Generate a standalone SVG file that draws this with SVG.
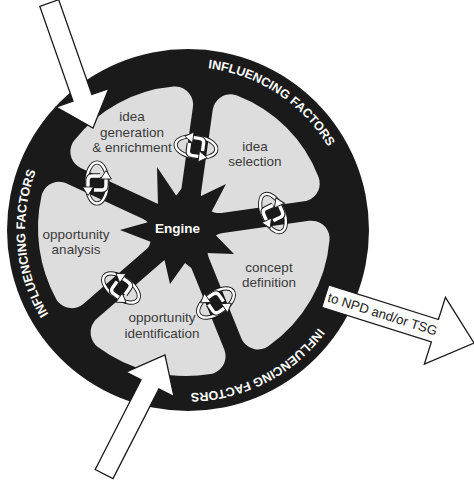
<svg xmlns="http://www.w3.org/2000/svg" xmlns:xlink="http://www.w3.org/1999/xlink" width="474" height="481" viewBox="0 0 474 481">
<style>
.lobe{fill:#dddddd;stroke:#dddddd;stroke-width:36;stroke-linejoin:round}
.lbl{font-family:"Liberation Sans",Arial,sans-serif;font-size:13.5px;fill:#3a3a3a;text-anchor:middle}
.ring{font-family:"Liberation Sans",Arial,sans-serif;font-size:12.5px;font-weight:bold;fill:#fff;text-anchor:middle}
.arrow{fill:#fff;stroke:#1a1a1a;stroke-width:1.3;stroke-linejoin:miter}
.sk{fill:none;stroke:#1a1a1a;stroke-width:5.6}
.sw{fill:none;stroke:#fff;stroke-width:3.4}
.ah{fill:#fff;stroke:#1a1a1a;stroke-width:0.9}
</style>
<defs>
<path id="arcTop" d="M 114.5,84.5 A 163 163 0 0 1 350.7,239.1"/>
<path id="arcLeft" d="M 119.1,377.7 A 163 163 0 0 1 94.5,96.5"/>
<path id="arcBottom" d="M 350.8,238.5 A 163 163 0 0 1 99.2,366.7"/>
<g id="swap">
<ellipse rx="20.5" ry="10.5" fill="none" stroke="#1a1a1a" stroke-width="4.2"/>
<ellipse rx="20.5" ry="10.5" fill="none" stroke="#fff" stroke-width="2.4"/>
<path class="sk" d="M 7,3 L 7,-5 Q 7,-9 2,-9 L -5,-9"/>
<path class="sw" d="M 7,3 L 7,-5 Q 7,-9 2,-9 L -5,-9"/>
<polygon class="ah" points="-4,-14.5 -12.5,-9 -4,-3.5"/>
<path class="sk" d="M -7,-3 L -7,5 Q -7,9 -2,9 L 5,9"/>
<path class="sw" d="M -7,-3 L -7,5 Q -7,9 -2,9 L 5,9"/>
<polygon class="ah" points="4,14.5 12.5,9 4,3.5"/>
</g>
</defs>
<rect width="474" height="481" fill="#fff"/>
<g id="ring">
<circle cx="188" cy="230" r="181" fill="#1a1a1a"/>
<text class="ring"><textPath xlink:href="#arcTop" href="#arcTop" startOffset="50%">INFLUENCING FACTORS</textPath></text>
<text class="ring"><textPath xlink:href="#arcLeft" href="#arcLeft" startOffset="50%">INFLUENCING FACTORS</textPath></text>
<text class="ring"><textPath xlink:href="#arcBottom" href="#arcBottom" startOffset="50%">INFLUENCING FACTORS</textPath></text>
</g>
<g id="lobe-idea-generation">
<path class="lobe" d="M 163.54,186.63 L 88.35,151.57 A 124 124 0 0 1 175.09,104.47 Z"/>
<text class="lbl" x="132" y="121">idea</text>
<text class="lbl" x="132" y="136.5">generation</text>
<text class="lbl" x="132" y="152">&amp; enrichment</text>
</g>
<g id="lobe-idea-selection">
<path class="lobe" d="M 218.90,195.10 L 230.55,112.27 A 124 124 0 0 1 301.73,183.45 Z"/>
<text class="lbl" x="255" y="151">idea</text>
<text class="lbl" x="255" y="166">selection</text>
</g>
<g id="lobe-concept-definition">
<path class="lobe" d="M 225.39,250.74 L 311.56,238.63 A 126 126 0 0 1 257.98,331.42 Z"/>
<text class="lbl" x="269" y="272">concept</text>
<text class="lbl" x="269" y="287">definition</text>
</g>
<g id="lobe-opportunity-identification">
<path class="lobe" d="M 174.75,274.89 L 207.60,356.20 A 130 130 0 0 1 108.56,332.42 Z"/>
<text class="lbl" x="162" y="322">opportunity</text>
<text class="lbl" x="162" y="338">identification</text>
</g>
<g id="lobe-opportunity-analysis">
<path class="lobe" d="M 135.09,235.16 L 71.82,290.16 A 130 130 0 0 1 59.11,199.73 Z"/>
<text class="lbl" x="76" y="239">opportunity</text>
<text class="lbl" x="76" y="254">analysis</text>
</g>
<g id="engine">
<polygon fill="#1a1a1a" points="157,167 176.1,195.5 189,179.5 196.4,198.2 226,184 211.4,212 231.5,222 215.5,234.9 234,254 206,253 200.7,275.4 185,262.9 170,284 164,257.8 144.3,261.8 150.5,241.7 120,230 148.7,221.9 136.7,207.9 158,205"/>
<text x="177.5" y="233" font-family="Liberation Sans, Arial, sans-serif" font-size="13.5" font-weight="bold" fill="#fff" text-anchor="middle">Engine</text>
</g>
<g id="connectors">
<use xlink:href="#swap" href="#swap" transform="translate(196,147) rotate(8)"/>
<use xlink:href="#swap" href="#swap" transform="translate(273,213) rotate(65)"/>
<use xlink:href="#swap" href="#swap" transform="translate(216,303) rotate(145)"/>
<use xlink:href="#swap" href="#swap" transform="translate(121,288) rotate(35)"/>
<use xlink:href="#swap" href="#swap" transform="translate(97,183) rotate(90)"/>
<polygon class="arrow" transform="translate(93,128) rotate(70.7)" points="-132.4,-10 -32,-10 -32,-28 0,0 -32,28 -32,10 -132.4,10"/>
<polygon class="arrow" transform="translate(165,355) rotate(-62.9)" points="-133.7,-10 -33,-10 -33,-27 0,0 -33,27 -33,10 -133.7,10"/>
<g transform="translate(474,343) rotate(17.5)">
<polygon class="arrow" points="-156,-11.7 -41,-11.7 -41,-35 0,0 -41,35 -41,11.7 -156,11.7"/>
<text x="-96" y="4.5" font-family="Liberation Sans, Arial, sans-serif" font-size="13.2" fill="#1a1a1a" text-anchor="middle">to NPD and/or TSG</text>
</g>
</g>
</svg>
